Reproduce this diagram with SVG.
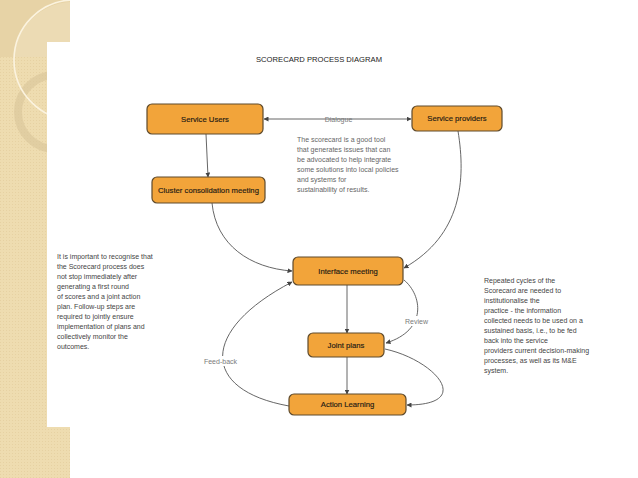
<svg xmlns="http://www.w3.org/2000/svg" width="638" height="478" viewBox="0 0 638 478">
<style>
text{font-family:"Liberation Sans",Arial,sans-serif}
.node rect{fill:#F2A43A;stroke:#5E4A2C;stroke-width:1.2}
.node text{font-size:7.7px;fill:#1E1A14;stroke:#1E1A14;stroke-width:0.15;text-anchor:middle;dominant-baseline:central}
.conn path,.conn line{fill:none;stroke:#555;stroke-width:0.9}
.lbl{font-size:7px;fill:#7a7a7a}
.note{font-size:7px;fill:#444}
.note2{font-size:7px;fill:#666}
</style>
<defs>
<marker id="ah" viewBox="0 0 10 10" refX="9" refY="5" markerWidth="5" markerHeight="5" orient="auto-start-reverse" markerUnits="userSpaceOnUse">
<path d="M0,0 L10,5 L0,10 z" fill="#444"/>
</marker>
<pattern id="dots" width="3" height="3" patternUnits="userSpaceOnUse">
<rect width="3" height="3" fill="#EEDCB0"/>
<rect width="1" height="1" fill="#E6D1A2"/>
</pattern>
<clipPath id="strip"><rect x="0" y="0" width="70" height="478"/></clipPath>
</defs>
<rect width="638" height="478" fill="#fff"/>
<g id="background" clip-path="url(#strip)">
<rect x="0" y="0" width="70" height="478" fill="url(#dots)"/>
<rect x="0" y="0" width="70" height="57" fill="#E7D3A6"/>
<path d="M70,2 A60,60 0 0 0 14,57 L70,57 Z" fill="#EDDDB8" opacity="0.8"/>
<circle cx="55" cy="112" r="37" fill="none" stroke="#D9C599" stroke-width="8" opacity="0.6"/>
<circle cx="74" cy="60" r="60" fill="none" stroke="#FBF3DF" stroke-width="1.6"/>
</g>
<rect x="47" y="42" width="591" height="385" fill="#fff"/>
<text x="319" y="62" font-size="7.7" fill="#222" text-anchor="middle" textLength="126" lengthAdjust="spacingAndGlyphs">SCORECARD PROCESS DIAGRAM</text>
<g class="conn" id="connectors">
<line x1="264" y1="119" x2="411" y2="119" marker-start="url(#ah)" marker-end="url(#ah)"/>
<line x1="206" y1="134" x2="208" y2="177" marker-end="url(#ah)"/>
<path d="M212,203 C216,245 250,268 292,271" marker-end="url(#ah)"/>
<path d="M458,131 C466,180 462,235 404,268" marker-end="url(#ah)"/>
<line x1="347" y1="285" x2="347" y2="333" marker-end="url(#ah)"/>
<line x1="347" y1="357" x2="347" y2="394" marker-end="url(#ah)"/>
<path d="M404,280 C422,295 428,330 386,343" marker-end="url(#ah)"/>
<path d="M385,349 C435,360 475,405 407,405" marker-end="url(#ah)"/>
<path d="M289,406 C200,390 200,330 292,282" marker-end="url(#ah)"/>
<text class="lbl" x="338.5" y="121.5" text-anchor="middle">Dialogue</text>
<rect x="404" y="316" width="25" height="10" fill="#fff"/>
<text class="lbl" x="416.5" y="323.5" text-anchor="middle">Review</text>
<rect x="203" y="356" width="35" height="10" fill="#fff"/>
<text class="lbl" x="220.5" y="363.5" text-anchor="middle">Feed-back</text>
</g>
<g id="service-users" class="node"><rect x="147" y="104" width="116" height="30" rx="5"/><text x="205" y="119">Service Users</text></g>
<g id="service-providers" class="node"><rect x="412" y="106" width="90" height="25" rx="5"/><text x="457" y="118.5">Service providers</text></g>
<g id="cluster" class="node"><rect x="152" y="177" width="113" height="26" rx="5"/><text x="208.5" y="190">Cluster consolidation meeting</text></g>
<g id="interface" class="node"><rect x="293" y="257" width="110" height="28" rx="5"/><text x="348" y="271">Interface meeting</text></g>
<g id="joint-plans" class="node"><rect x="308" y="333" width="76" height="24" rx="5"/><text x="346" y="345">Joint plans</text></g>
<g id="action-learning" class="node"><rect x="289" y="394" width="117" height="21" rx="5"/><text x="347.5" y="404.5">Action Learning</text></g>
<g id="note-scorecard" class="note2">
<text x="297" y="142">The scorecard is a good tool</text>
<text x="297" y="152">that generates issues that can</text>
<text x="297" y="162">be advocated to help integrate</text>
<text x="297" y="172">some solutions into local policies</text>
<text x="297" y="182">and systems for</text>
<text x="297" y="192">sustainability of results.</text>
</g>
<g id="note-left" class="note">
<text x="57" y="259">It is important to recognise that</text>
<text x="57" y="269">the Scorecard process does</text>
<text x="57" y="279">not stop immediately after</text>
<text x="57" y="289">generating a first round</text>
<text x="57" y="299">of scores and a joint action</text>
<text x="57" y="309">plan. Follow-up steps are</text>
<text x="57" y="319">required to jointly ensure</text>
<text x="57" y="329">implementation of plans and</text>
<text x="57" y="339">collectively monitor the</text>
<text x="57" y="349">outcomes.</text>
</g>
<g id="note-right" class="note">
<text x="484" y="283">Repeated cycles of the</text>
<text x="484" y="293">Scorecard are needed to</text>
<text x="484" y="303">institutionalise the</text>
<text x="484" y="313">practice - the information</text>
<text x="484" y="323">collected needs to be used on a</text>
<text x="484" y="333">sustained basis, i.e., to be fed</text>
<text x="484" y="343">back into the service</text>
<text x="484" y="353">providers current decision-making</text>
<text x="484" y="363">processes, as well as its M&amp;E</text>
<text x="484" y="373">system.</text>
</g>
</svg>
